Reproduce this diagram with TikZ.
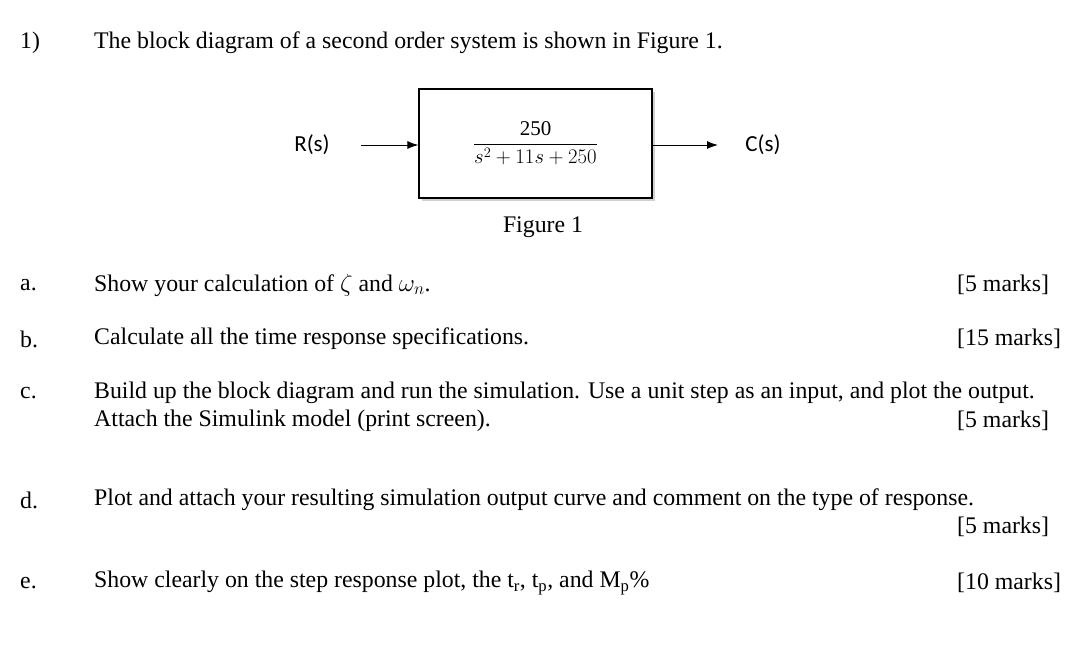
\documentclass[tikz,border=0pt]{standalone}
\usepackage{fontspec}
\setmainfont{Liberation Serif}
\newfontfamily\lblfont{Carlito}
\usetikzlibrary{arrows.meta}
\begin{document}
\begin{tikzpicture}[x=1pt,y=-1pt,
  txt/.style={anchor=west,inner sep=0pt,font=\fontsize{23.8}{28}\selectfont},
  lbl/.style={inner sep=0pt,font=\lblfont\fontsize{23}{26}\selectfont},
  blk/.style={draw,line width=1.1pt,minimum width=233pt,minimum height=109pt,inner sep=0pt},
  arr/.style={-{Latex[length=11pt,width=8pt]},line width=1pt}]
\useasboundingbox[fill=white] (0,0) rectangle (1084,667);
\fill[black!18] (422,92) rectangle (655,201);
\node[blk,fill=white] (G) at (535.5,143.5) {\fontsize{21}{25}\selectfont$\displaystyle\frac{\mathrm{250}}{s^2+11s+250}$};
\node[lbl] (R) at (312,145) {R(s)};
\node[lbl] (C) at (763,145) {C(s)};
\coordinate (rin) at (361,145);
\coordinate (cout) at (718,145);
\draw[arr] (rin) -- (G.west|-rin);
\draw[arr] (G.east|-cout) -- (cout);
\node[txt] (n1) at (20,43) {1)};
\node[txt] (t1) at (94,43) {The block diagram of a second order system is shown in Figure 1.};
\node[txt,anchor=center] (fig) at (543,227) {Figure 1};
\node[txt] (la) at (20,285) {a.};
\node[txt] (ta) at (94,285) {Show your calculation of $\zeta$ and $\omega_{n}$.};
\node[txt] (ma) at (957,285) {[5 marks]};
\node[txt] (lb) at (20,339) {b.};
\node[txt] (tb) at (94,339) {Calculate all the time response specifications.};
\node[txt] (mb) at (957,339) {[15 marks]};
\node[txt] (lc) at (20,393) {c.};
\node[txt] (tc) at (94,393) {Build up the block diagram and run the simulation. Use a unit step as an input, and plot the output.};
\node[txt] (tc2) at (94,421) {Attach the Simulink model (print screen).};
\node[txt] (mc) at (957,421) {[5 marks]};
\node[txt] (ld) at (20,500) {d.};
\node[txt] (td) at (94,500) {Plot and attach your resulting simulation output curve and comment on the type of response.};
\node[txt] (md) at (957,527) {[5 marks]};
\node[txt] (le) at (20,583) {e.};
\node[txt] (te) at (94,583) {Show clearly on the step response plot, the t\textsubscript{r}, t\textsubscript{p}, and M\textsubscript{p}\%};
\node[txt] (me) at (957,583) {[10 marks]};
\end{tikzpicture}
\end{document}
